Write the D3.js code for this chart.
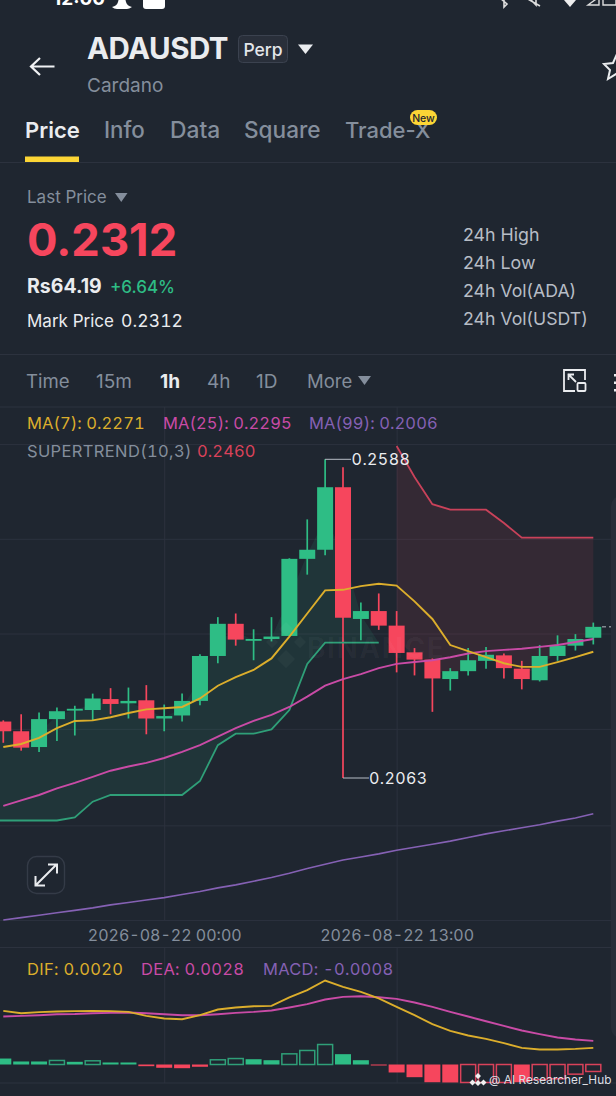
<!DOCTYPE html>
<html>
<head>
<meta charset="utf-8">
<script src="https://cdn.jsdelivr.net/npm/d3@7"></script>
<style>
    html, body { margin: 0; padding: 0; background: #1f2630; overflow: hidden; }
    svg { display: block; font-family: Inter, "Noto Sans", sans-serif; }
    .num { font-variant-numeric: tabular-nums; font-feature-settings: "tnum"; }
</style>
</head>
<body>
<div id="chart-area"></div>
<script>
var opens = [.2156, .2140, .2114, .2160, .2174, .2175, .2193, .2186, .2191, .2161, .2166, .2190, .2264, .2317, .2289, .2292, .2297, .2424, .2439, .2542, .2325, .2338, .2314, .2270, .2258, .2226, .2239, .2256, .2265, .2243, .2224, .2264, .2281, .2294];
var closes = [.2140, .2113, .2160, .2173, .2177, .2194, .2185, .2190, .2161, .2165, .2190, .2264, .2317, .2291, .2292, .2296, .2424, .2439, .2542, .2327, .2338, .2314, .2269, .2258, .2227, .2239, .2257, .2266, .2244, .2226, .2264, .2281, .2292, .2312];
var highs = [.2158, .2168, .2171, .2179, .2182, .2202, .2211, .2212, .2216, .2184, .2202, .2267, .2328, .2334, .2308, .2328, .2425, .2489, .2588, .2575, .2352, .2367, .2338, .2277, .2260, .2244, .2277, .2279, .2268, .2256, .2282, .2298, .2300, .2319];
var lows = [.2121, .2108, .2106, .2124, .2133, .2158, .2168, .2161, .2135, .2140, .2156, .2183, .2252, .2281, .2257, .2288, .2297, .2398, .2430, .2063, .2290, .2307, .2237, .2232, .2172, .2207, .2232, .2243, .2227, .2209, .2222, .2256, .2273, .2283];

var ma7 = [.2114, .2119, .2129, .2145, .2157, .2158, .2163, .2170, .2176, .2178, .2180, .2194, .2215, .2229, .2241, .2260, .2296, .2334, .2372, .2373, .2379, .2383, .2380, .2354, .2325, .2282, .2272, .2262, .2252, .2246, .2246, .2254, .2262, .2271];
var ma25 = [.2017, .2026, .2035, .2046, .2055, .2065, .2075, .2082, .2088, .2096, .2106, .2117, .2131, .2145, .2157, .2167, .2180, .2197, .2215, .2226, .2234, .2244, .2251, .2254, .2257, .2262, .2268, .2272, .2274, .2276, .2279, .2282, .2287, .2292];
var ma99 = [.1829, .1833, .1837, .1841, .1845, .1849, .1854, .1858, .1862, .1866, .1871, .1876, .1882, .1887, .1893, .1899, .1906, .1914, .1921, .1928, .1933, .1938, .1944, .1949, .1954, .1959, .1965, .1971, .1976, .1981, .1986, .1992, .1997, .2004];

var upTrend = [.1993, .1993, .1993, .1993, .1998, .2024, .2035, .2035, .2035, .2035, .2035, .2058, .2117, .2136, .2136, .2143, .2175, .2251, .2286, .2286, .2286, .2286];
var downTrend = [.2610, .2559, .2514, .2505, .2505, .2505, .2483, .2459, .2459, .2459, .2459, .2459];
// the bar before the first candle, only its band shows at the left edge
var upTrendBefore = .1993;
var midBefore = .2150;

var dif = [.00638, .00611, .00623, .00631, .00635, .00638, .00635, .00626, .00579, .00548, .00539, .00587, .00655, .00679, .00694, .00698, .00798, .00885, .01000, .00924, .00864, .00786, .00686, .00587, .00480, .00400, .00345, .00305, .00254, .00198, .00179, .00179, .00186, .00198];
var dea = [.00571, .00579, .00587, .00599, .00602, .00611, .00614, .00619, .00611, .00599, .00587, .00587, .00599, .00614, .00626, .00643, .00679, .00718, .00774, .00805, .00813, .00801, .00781, .00738, .00686, .00626, .00571, .00515, .00459, .00405, .00361, .00321, .00298, .00281];
var macd = [.00071, .00036, .00036, .00048, .00032, .00044, .00024, .00024, -.00020, -.00039, -.00044, -.00027, .00056, .00071, .00063, .00051, .00127, .00167, .00238, .00123, .00051, -.00012, -.00095, -.00151, -.00211, -.00214, -.00214, -.00214, -.00214, -.00211, -.00180, -.00170, -.00115, -.00083];
var macdHollow = [false, false, false, true, false, true, false, false, false, false, false, false, true, true, false, false, true, true, true, false, false, false, false, false, false, false, true, true, true, false, true, true, true, true];

var gridPrices = [.2613, .2457, .2301, .2144, .1985, .1829];
var timeTicks = ["2026-08-22T00:00Z", "2026-08-22T13:00Z"];
var firstTime = new Date("2026-08-21T15:00Z");
var lastPrice = .2312;
var maxPrice = .2588;
var minPrice = .2063;

var GREEN = "#2ebd85", RED = "#f6465d", YELLOW = "#dcae2c", PINK = "#c94ba6", PURPLE = "#8561b4";
var GREY = "#848e9c", GRID = "#2c323e";

var tickDates = timeTicks.map(function (d) { return new Date(d); });

var svg = d3.select("#chart-area").append("svg")
    .attr("width", 616)
    .attr("height", 1096);

var x = d3.scaleUtc()
    .domain([firstTime, d3.utcHour.offset(firstTime, opens.length - 1)])
    .range([3.3, 593.3]);

var y = d3.scaleLinear()
    .domain([minPrice, maxPrice])
    .range([778, 459.3]);

var yMacd = d3.scaleLinear()
    .domain([0, .01])
    .range([1064.5, 980.5]);

function tx(i) {
    return x(d3.utcHour.offset(firstTime, i));
}

function label(px, py, text, size, color, weight, anchor) {
    return svg.append("text")
        .attr("x", px)
        .attr("y", py)
        .attr("font-size", size)
        .attr("fill", color)
        .attr("font-weight", weight || 400)
        .attr("text-anchor", anchor || "start")
        .text(text);
}

function chartLabel(px, py, text, color, spacing) {
    return label(px, py, text, 16.5, color)
        .attr("class", "num")
        .attr("letter-spacing", spacing);
}

function hline(py, color) {
    svg.append("line")
        .attr("x1", 0).attr("x2", 616)
        .attr("y1", py).attr("y2", py)
        .attr("stroke", color || GRID);
}

function triangle(x0, x1, y0, y1, color) {
    svg.append("path")
        .attr("d", d3.line()([[x0, y0], [x1, y0], [(x0 + x1) / 2, y1]]))
        .attr("fill", color);
}

drawHeader();
drawGrid();
drawPrice();
drawMacd();
drawOverlays();

function drawHeader() {
    // status bar, cut off by the top of the screenshot
    label(53, 5, "12:00", 19, "#fff", 700);
    svg.append("path")
        .attr("d", "M112,7 q5,-1 6,-5 l1,-4 h6 l1,4 q1,4 6,5 q-3,2 -5,2 h-10 q-3,0 -5,-2z")
        .attr("fill", "#fff");
    svg.append("rect").attr("x", 143).attr("y", -8).attr("width", 22).attr("height", 17).attr("rx", 3).attr("fill", "#fff");
    svg.append("path").attr("d", "M500,-2 l7,6 -3,3 v-9").attr("fill", "none").attr("stroke", "#ddd").attr("stroke-width", 1.6);
    svg.append("path").attr("d", "M526,-2 l14,8 M531,0 l5,5 v-6").attr("fill", "none").attr("stroke", "#ddd").attr("stroke-width", 1.6);
    svg.append("path").attr("d", "M564,0 h12 l-6,7z").attr("fill", "#eee");
    svg.append("path").attr("d", "M588,5 l11,-8 v8z M603,-3 h13 v8 h-13z").attr("fill", "none").attr("stroke", "#ddd").attr("stroke-width", 1.4);

    svg.append("path")
        .attr("d", "M54.5,66.5 H31 M40,58 L31,66.5 L40,75")
        .attr("fill", "none").attr("stroke", "#f0f1f3").attr("stroke-width", 2.2);
    label(87, 58.5, "ADAUSDT", 29.5, "#eaecef", 700).attr("letter-spacing", -0.5);
    svg.append("rect").attr("x", 238.5).attr("y", 35.5).attr("width", 49).attr("height", 27).attr("rx", 4)
        .attr("fill", "#292f3a").attr("stroke", "#3b424f");
    label(263, 55.5, "Perp", 17.5, "#e4e6ea", 500, "middle");
    triangle(298, 313, 44.5, 54, "#eaecef");
    svg.append("path")
        .attr("d", "M617,54 L620,63 L629,64 L622,70 L624,79 L616,74 L608,79 L610,70 L604,64 L613,63z")
        .attr("fill", "none").attr("stroke", "#eaecef").attr("stroke-width", 2);
    label(87, 92, "Cardano", 19, GREY);

    label(25, 138, "Price", 22, "#eaecef", 600);
    label(104, 138, "Info", 22.3, GREY, 500);
    label(170, 138, "Data", 22.8, GREY, 500);
    label(244, 138, "Square", 22.6, GREY, 500);
    label(345, 138, "Trade-X", 22, GREY, 500);
    svg.append("rect").attr("x", 25).attr("y", 156.5).attr("width", 54).attr("height", 5.5).attr("fill", "#fcd535");
    hline(162.5);
    svg.append("rect").attr("x", 410).attr("y", 110).attr("width", 27).attr("height", 15).attr("rx", 7.5).attr("fill", "#fcd535");
    label(423.5, 121.5, "New", 10.5, "#1f2630", 500, "middle");

    label(27, 203, "Last Price", 17, GREY);
    triangle(115, 127.5, 193, 202, GREY);
    label(27, 256, "0.2312", 45.3, RED, 700);
    label(27, 293, "Rs64.19", 19.5, "#eaecef", 700);
    label(110, 293, "+6.64%", 17, GREEN, 500);
    label(27, 326.5, "Mark Price", 17, "#eaecef");
    label(121, 326.5, "0.2312", 17.5, "#eaecef").attr("class", "num").attr("letter-spacing", .1);
    label(463, 241, "24h High", 17.8, "#b7bdc6");
    label(463, 268.5, "24h Low", 17.8, "#b7bdc6");
    label(463, 296.5, "24h Vol(ADA)", 17.7, "#b7bdc6");
    label(463, 324.5, "24h Vol(USDT)", 17.7, "#b7bdc6");
    hline(354.5);

    label(26, 388, "Time", 18.6, GREY);
    label(96, 388, "15m", 19, GREY);
    label(160, 388, "1h", 19, "#eaecef", 700);
    label(207, 388, "4h", 19, GREY);
    label(256, 388, "1D", 19, GREY);
    label(307, 388, "More", 18.5, GREY);
    triangle(358, 371, 376, 385, GREY);
    svg.append("path")
        .attr("d", "M575,391 H564 V370 H585 V380 M568,374 L576,382 M568.5,380 V374.5 H574")
        .attr("fill", "none").attr("stroke", "#eaecef").attr("stroke-width", 1.8);
    svg.append("rect").attr("x", 577.5).attr("y", 383).attr("width", 8).attr("height", 8).attr("rx", 1)
        .attr("fill", "none").attr("stroke", "#eaecef").attr("stroke-width", 1.8);
    svg.append("path").attr("d", "M615,374 V392").attr("stroke", "#eaecef").attr("stroke-width", 2).attr("stroke-dasharray", "2.5 5");
    hline(407);
}

function drawGrid() {
    var gridY = svg.append("g")
        .call(d3.axisRight(y).tickValues(gridPrices).tickSize(616).tickFormat(""));
    gridY.select(".domain").remove();
    gridY.selectAll("line").attr("stroke", GRID);

    var gridX = svg.append("g")
        .attr("transform", "translate(0,407)")
        .call(d3.axisBottom(x).tickValues(tickDates).tickSize(513).tickFormat(""));
    gridX.select(".domain").remove();
    gridX.selectAll("line").attr("stroke", GRID);

    var labels = svg.append("g")
        .attr("transform", "translate(0,941)")
        .call(d3.axisBottom(x).tickValues(tickDates).tickSize(0).tickPadding(0).tickFormat(d3.utcFormat("%Y-%m-%d %H:%M")));
    labels.select(".domain").remove();
    labels.selectAll("text")
        .attr("dy", 0).attr("y", 0)
        .attr("class", "num")
        .attr("fill", GREY)
        .attr("font-size", 16)
        .attr("letter-spacing", 0)
        .attr("font-family", "Inter, sans-serif");

    hline(947.5);
    hline(1083);

    var gridMacd = svg.append("g")
        .attr("transform", "translate(0,948)")
        .call(d3.axisBottom(x).tickValues(tickDates).tickSize(135).tickFormat(""));
    gridMacd.select(".domain").remove();
    gridMacd.selectAll("line").attr("stroke", GRID);
}

function drawPrice() {
    var mid = function (i) { return (opens[i] + closes[i]) / 2; };
    var upLast = upTrend.length - 1;

    // band between the trend line and the candle middles, closing where the trend flips
    var upBand = [{ i: -1, trend: upTrendBefore, mid: midBefore }].concat(upTrend.map(function (d, i) {
        return { i: i, trend: d, mid: i == upLast ? d : mid(i) };
    }));
    var downBand = downTrend.map(function (d, i) {
        return { i: i + upTrend.length, trend: d, mid: mid(i + upTrend.length) };
    });

    var band = d3.area()
        .x(function (d) { return tx(d.i); })
        .y0(function (d) { return y(d.trend); })
        .y1(function (d) { return y(d.mid); });

    var trendLine = d3.line()
        .x(function (d) { return tx(d.i); })
        .y(function (d) { return y(d.trend); });

    svg.append("path").datum(upBand).attr("fill", GREEN).attr("fill-opacity", .1).attr("d", band);
    svg.append("path").datum(downBand).attr("fill", RED).attr("fill-opacity", .1).attr("d", band);

    var candle = svg.append("g").selectAll("g")
        .data(opens)
        .enter().append("g")
        .attr("stroke", function (d, i) { return closes[i] >= d ? GREEN : RED; })
        .attr("fill", function (d, i) { return closes[i] >= d ? GREEN : RED; });

    candle.append("line")
        .attr("x1", function (d, i) { return tx(i); })
        .attr("x2", function (d, i) { return tx(i); })
        .attr("y1", function (d, i) { return y(highs[i]); })
        .attr("y2", function (d, i) { return y(lows[i]); })
        .attr("stroke-width", 1.7);

    candle.append("rect")
        .attr("x", function (d, i) { return tx(i) - 8; })
        .attr("width", 16)
        .attr("y", function (d, i) { return y(Math.max(d, closes[i])); })
        .attr("height", function (d, i) { return Math.abs(y(d) - y(closes[i])); })
        .attr("stroke", "none");

    svg.append("path").datum(upBand).attr("fill", "none").attr("stroke", "#2f9f78").attr("stroke-width", 1.8).attr("d", trendLine);
    svg.append("path").datum(downBand).attr("fill", "none").attr("stroke", "#c9425a").attr("stroke-width", 1.8).attr("d", trendLine);

    var line = d3.line()
        .x(function (d, i) { return tx(i); })
        .y(function (d) { return y(d); });

    [[ma99, PURPLE, 1.6], [ma25, PINK, 1.9], [ma7, YELLOW, 1.9]].forEach(function (s) {
        svg.append("path").datum(s[0]).attr("fill", "none").attr("stroke", s[1]).attr("stroke-width", s[2]).attr("d", line);
    });

    // extreme price callouts
    var hi = highs.indexOf(maxPrice), lo = lows.indexOf(minPrice);
    svg.append("line").attr("x1", tx(hi)).attr("x2", tx(hi) + 26).attr("y1", y(maxPrice)).attr("y2", y(maxPrice)).attr("stroke", "#b7bdc6");
    label(tx(hi) + 26.5, y(maxPrice) + 6, d3.format(".4f")(maxPrice), 16, "#eaecef").attr("class", "num").attr("letter-spacing", .4);
    svg.append("line").attr("x1", tx(lo)).attr("x2", tx(lo) + 26).attr("y1", y(minPrice)).attr("y2", y(minPrice)).attr("stroke", "#b7bdc6");
    label(tx(lo) + 26, y(minPrice) + 6, d3.format(".4f")(minPrice), 16, "#eaecef").attr("class", "num").attr("letter-spacing", .4);

    svg.append("line").attr("x1", 602).attr("x2", 616).attr("y1", y(lastPrice)).attr("y2", y(lastPrice))
        .attr("stroke", "#b7bdc6").attr("stroke-dasharray", "4 3");

    chartLabel(27, 429, "MA(7): 0.2271", YELLOW, .08);
    chartLabel(163, 429, "MA(25): 0.2295", PINK, .1);
    chartLabel(309, 429, "MA(99): 0.2006", PURPLE, .1);
    chartLabel(27, 456.5, "SUPERTREND(10,3)", GREY, .37);
    chartLabel(197, 456.5, "0.2460", "#d9425a", .1);
}

function drawMacd() {
    chartLabel(27, 975, "DIF: 0.0020", YELLOW, .3);
    chartLabel(141, 975, "DEA: 0.0028", PINK, .3);
    chartLabel(263, 975, "MACD: -0.0008", PURPLE, .25);

    svg.append("g").selectAll("rect")
        .data(macd)
        .enter().append("rect")
        .attr("x", function (d, i) { return tx(i) - (macdHollow[i] ? 7.5 : 8); })
        .attr("width", function (d, i) { return macdHollow[i] ? 15 : 16; })
        .attr("y", function (d) { return yMacd(Math.max(d, 0)); })
        .attr("height", function (d) { return Math.abs(yMacd(d) - yMacd(0)); })
        .attr("fill", function (d, i) { return macdHollow[i] ? "none" : (d >= 0 ? GREEN : RED); })
        .attr("stroke", function (d, i) { return macdHollow[i] ? (d >= 0 ? "#2f9f78" : "#d9425a") : "none"; })
        .attr("stroke-width", 1.5);

    var line = d3.line()
        .x(function (d, i) { return tx(i); })
        .y(function (d) { return yMacd(d); });
    svg.append("path").datum(dea).attr("fill", "none").attr("stroke", PINK).attr("stroke-width", 1.9).attr("d", line);
    svg.append("path").datum(dif).attr("fill", "none").attr("stroke", YELLOW).attr("stroke-width", 1.9).attr("d", line);
}

function drawOverlays() {
    // faint exchange mark across the candles
    var mark = svg.append("g").attr("fill", "#fff").attr("fill-opacity", .035);
    mark.append("path").attr("d", "M286,622 l7,7 -7,7 -7,-7z M272,636 l6,6 -6,6 -6,-6z M300,636 l6,6 -6,6 -6,-6z M286,650 l9,9 -9,9 -9,-9z");
    mark.append("text").attr("x", 307).attr("y", 658).attr("font-size", 28).attr("font-weight", 700).attr("letter-spacing", 1.5).text("BINANCE");

    // side handle over the right edge
    svg.append("rect").attr("x", 611).attr("y", 496).attr("width", 20).attr("height", 542).attr("rx", 10).attr("fill", "#272d38");

    svg.append("rect").attr("x", 27.5).attr("y", 856.5).attr("width", 37).attr("height", 37).attr("rx", 9)
        .attr("fill", "#1f2630").attr("stroke", "#343b47").attr("stroke-width", 1.4);
    svg.append("path")
        .attr("d", "M36,885 L56,865 M48,864.5 H57 V873.5 M35.5,876 V885.5 H45")
        .attr("fill", "none").attr("stroke", "#eaecef").attr("stroke-width", 2);

    svg.append("path")
        .attr("d", "M478,1073 l3,3 -3,3 -3,-3z M472.5,1079.5 l3,3 -3,3 -3,-3z M483.5,1079.5 l3,3 -3,3 -3,-3z M478,1080 l3,3 -3,3 -3,-3z")
        .attr("fill", "#f0f0f0");
    label(489, 1084, "@ AI Researcher_Hub", 11.8, "#dcdfe4").attr("letter-spacing", .05);
}
</script>
</body>
</html>
